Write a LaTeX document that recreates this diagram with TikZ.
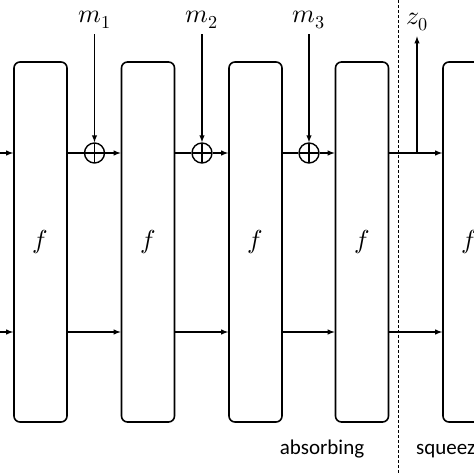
\documentclass[tikz,border=0pt]{standalone}
\usepackage{fontspec}
\usepackage{unicode-math}
\setsansfont{Carlito}
\usetikzlibrary{arrows}
\tikzset{
	node_f/.style = {
		rectangle,
		rounded corners=6pt,
		draw=black,
		line width=1.6pt,
		minimum width=53pt,
		minimum height=360pt,
		inner sep=0pt,
		font=\fontsize{26}{30}\selectfont
	},
	node_xor/.style = {
		circle,
		draw=black,
		line width=1.4pt,
		minimum size=20pt,
		inner sep=0pt,
		path picture={
			\draw[line width=1.4pt] (path picture bounding box.north) -- (path picture bounding box.south)
			(path picture bounding box.west) -- (path picture bounding box.east);
		}
	},
	node_lbl/.style = {
		inner sep=0pt,
		font=\fontsize{26}{30}\selectfont
	},
	node_phase/.style = {
		inner sep=0pt,
		font=\sffamily\fontsize{21}{25}\selectfont
	},
	wire/.style = {
		->,
		line width=1.4pt
	}
}

\begin{document}
\begin{tikzpicture}[x=1pt,y=-1pt,>=latex]
\useasboundingbox (0,0) rectangle (474,474);
\clip (0,0) rectangle (474,474);
% permutation boxes
\foreach \i/\x in {1/40.5, 2/148, 3/255.5, 4/362, 5/469.5}
	\node [node_f] (f\i) at (\x,242) {$f$};
\coordinate (top) at (0,153);
\coordinate (bot) at (0,332);
% absorbing the message blocks
\foreach \i/\x in {1/94.5, 2/202, 3/309}
{
	\node [node_xor] (xor\i) at (\x,153) {};
	\node [node_lbl] (m\i) at (\x,20) {$m_\i$};
}
\foreach \i/\j in {1/2, 2/3, 3/4}
{
	\draw [line width=1.4pt] (f\i.east |- top) -- (xor\i);
	\draw [wire] (xor\i) -- (f\j.west |- top);
	\draw [wire] ([yshift=-5pt]m\i.south) -- (xor\i.north);
	\draw [wire] (f\i.east |- bot) -- (f\j.west |- bot);
}
\draw [wire] (top) -- (f1.west |- top);
\draw [wire] (bot) -- (f1.west |- bot);
% squeezing
\coordinate (tap) at (417,153);
\node [node_lbl] (z0) at (417,22) {$z_0$};
\draw [wire] (f4.east |- top) -- (f5.west |- top);
\draw [wire] (tap) -- ([yshift=-5pt]z0.south);
\draw [wire] (f4.east |- bot) -- (f5.west |- bot);
% phase boundary
\coordinate (cut_a) at (398,0);
\coordinate (cut_b) at (398,474);
\draw [line width=1pt, dash pattern=on 3pt off 2pt] (cut_a) -- (cut_b);
\node [node_phase] (absorb) at (322,449) {absorbing};
\node [node_phase, anchor=west] (squeeze) at (416,449) {squeezing};
\end{tikzpicture}
\end{document}
